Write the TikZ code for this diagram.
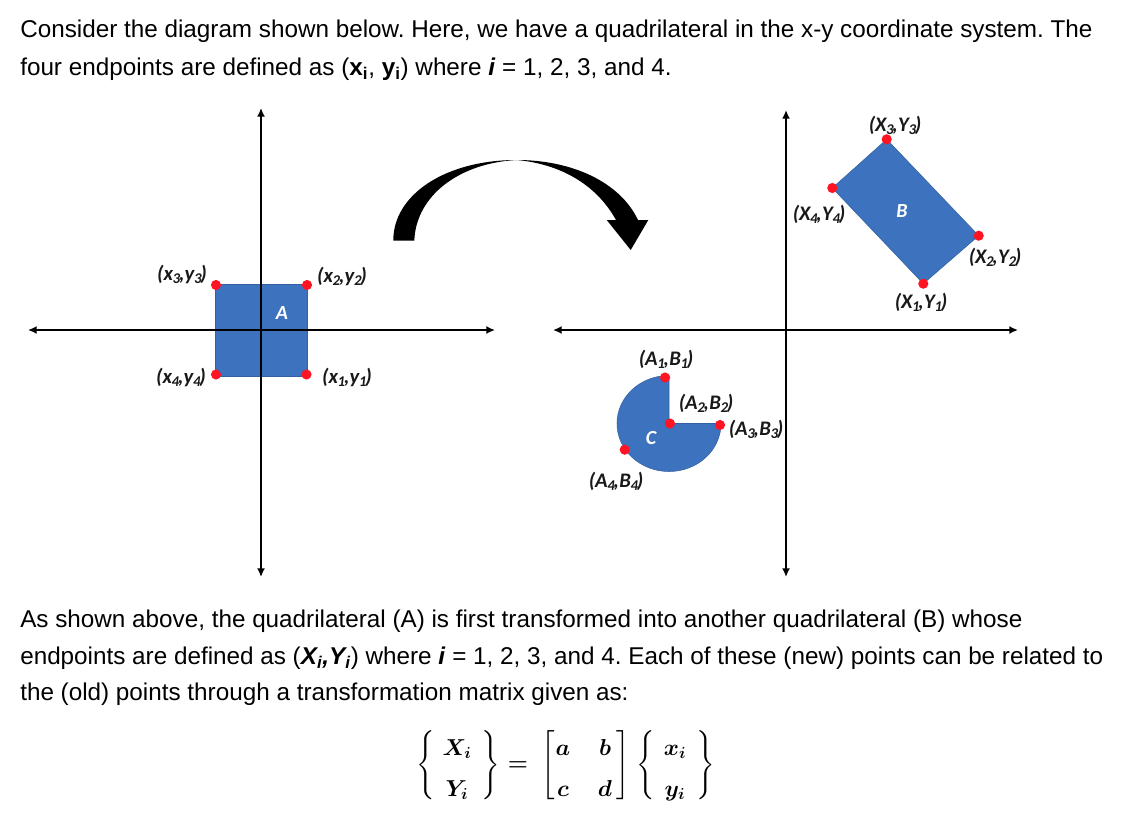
\documentclass[tikz,border=0pt]{standalone}
\usepackage{amsmath}
\usepackage{fontspec}
\setmainfont{Liberation Sans}
\newfontfamily\labfont{Carlito}[BoldFont=Carlito Bold,BoldItalicFont=Carlito Bold Italic,ItalicFont=Carlito Italic]
\usetikzlibrary{arrows.meta}
\definecolor{shapeblue}{RGB}{60,114,190}
\definecolor{dotred}{RGB}{255,20,35}
\newcommand{\sbs}[1]{\kern-.02em\raisebox{-.3ex}{\scalebox{.72}{#1}}\kern-.06em}
\newcommand{\coordlab}[4]{(#1\sbs{#2},\kern.02em#3\sbs{#4})}
\newcommand{\tall}{\vrule width 0pt height 23pt depth 23pt}
\frenchspacing
\tikzset{
  x=0.75pt,y=-0.75pt,
  para/.style={anchor=base west,inner sep=0pt,font=\fontsize{18.2}{22}\selectfont},
  axis/.style={line width=2.1pt,{Latex[length=6.5pt,width=6pt]}-{Latex[length=6.5pt,width=6pt]}},
  region/.style={fill=shapeblue,draw=shapeblue!85!black,line width=.4pt},
  dot/.style={circle,fill=dotred,inner sep=0pt,minimum size=7.6pt},
  lab/.style={inner sep=0pt,font=\labfont\bfseries\itshape\fontsize{15.5}{18}\selectfont,text=black!90},
  shapename/.style={inner sep=0pt,text=white,font=\labfont\bfseries\itshape\fontsize{15}{18}\selectfont},
  cell/.style={anchor=base,inner sep=0pt,font=\fontsize{18.5}{22}\selectfont\boldmath},
  delim/.style={inner sep=0pt,font=\fontsize{17}{20}\selectfont\boldmath}
}
\begin{document}
\begin{tikzpicture}
\useasboundingbox (0,0) rectangle (1138,824);
\fill[white] (0,0) rectangle (1138,824);
% text above
\node[para] (t1) at (20,38) {Consider the diagram shown below. Here, we have a quadrilateral in the x-y coordinate system. The};
\node[para] (t2) at (20,75) {four endpoints are defined as (\textbf{x\textsubscript{i}}, \textbf{y\textsubscript{i}}) where \textbf{\textit{i}} = 1, 2, 3, and 4.};
% shapes
\draw[region] (215,284) rectangle (307,376);
\draw[region] (886.7,139.3) -- (978.7,235.7) -- (923.3,283.7) -- (832.3,188) -- cycle;
\draw[region] (669,423.5) -- (669,375.5) arc[start angle=270,end angle=0,x radius=52,y radius=48] -- cycle;
% axes
\coordinate (la) at (261,108); \coordinate (lb) at (261,577);
\coordinate (lc) at (28,330); \coordinate (ld) at (495,330);
\coordinate (ra) at (786,110); \coordinate (rb) at (786,577);
\coordinate (rc) at (553,330); \coordinate (rd) at (1018,330);
\draw[axis] (la) -- (lb);
\draw[axis] (lc) -- (ld);
\draw[axis] (ra) -- (rb);
\draw[axis] (rc) -- (rd);
% curved arrow
\fill[black] (393.3,240.7) .. controls (393,195) and (445,160) .. (516.7,160)
  .. controls (572,160) and (620,182) .. (638,220) -- (648.3,220) -- (630.7,250) -- (606.7,220) -- (616,220)
  .. controls (596,184) and (560,164) .. (516.7,160)
  .. controls (460,163) and (416,195) .. (414.3,240.7) -- cycle;
% dots
\node[dot] (p3) at (216,285) {};
\node[dot] (p2) at (307,285) {};
\node[dot] (p4) at (216,374.5) {};
\node[dot] (p1) at (306.5,374.5) {};
\node[dot] (q3) at (886.7,139.3) {};
\node[dot] (q4) at (832.3,188) {};
\node[dot] (q2) at (978.7,235.7) {};
\node[dot] (q1) at (923.3,283.7) {};
\node[dot] (r1) at (665,377.5) {};
\node[dot] (r2) at (670,423.5) {};
\node[dot] (r3) at (720,425) {};
\node[dot] (r4) at (624.7,449.7) {};
% labels
\node[lab] (lx3) at (182,274) {\coordlab{x}{3}{y}{3}};
\node[lab] (lx2) at (342,276) {\coordlab{x}{2}{y}{2}};
\node[lab] (lx4) at (181,377) {\coordlab{x}{4}{y}{4}};
\node[lab] (lx1) at (347,377) {\coordlab{x}{1}{y}{1}};
\node[shapename] (na) at (282,313) {A};
\node[lab] (la1) at (666,359) {\coordlab{A}{1}{B}{1}};
\node[lab] (la2) at (706,403) {\coordlab{A}{2}{B}{2}};
\node[lab] (la3) at (756,429) {\coordlab{A}{3}{B}{3}};
\node[lab] (la4) at (616,481) {\coordlab{A}{4}{B}{4}};
\node[shapename] (nc) at (651,438) {C};
\node[lab] (lX3) at (895,125) {\coordlab{X}{3}{Y}{3}};
\node[lab] (lX4) at (819,214) {\coordlab{X}{4}{Y}{4}};
\node[lab] (lX2) at (995,257) {\coordlab{X}{2}{Y}{2}};
\node[lab] (lX1) at (921,302) {\coordlab{X}{1}{Y}{1}};
\node[shapename] (nb) at (902,211) {B};
% text below
\node[para] (t3) at (20,627) {As shown above, the quadrilateral (A) is first transformed into another quadrilateral (B) whose};
\node[para] (t4) at (20,664) {endpoints are defined as (\textbf{\textit{X\textsubscript{i},Y\textsubscript{i}}}) where \textbf{\textit{i}} = 1, 2, 3, and 4. Each of these (new) points can be related to};
\node[para] (t5) at (20,700) {the (old) points through a transformation matrix given as:};
% equation
\node[delim] (d1) at (427,765.7) {$\left\{\tall\right.$};
\node[cell] (cX) at (457,755) {$X_i$};
\node[cell] (cY) at (457,796) {$Y_i$};
\node[delim] (d2) at (490,765.7) {$\left.\tall\right\}$};
\node[cell,anchor=center] (eqs) at (518,765.7) {$=$};
\node[delim] (d3) at (549,765.7) {$\left[\tall\right.$};
\node[cell] (ca) at (563,755) {$a$};
\node[cell] (cb) at (605,755) {$b$};
\node[cell] (cc) at (563,796) {$c$};
\node[cell] (cd) at (605,796) {$d$};
\node[delim] (d4) at (622,765.7) {$\left.\tall\right]$};
\node[delim] (d5) at (647,765.7) {$\left\{\tall\right.$};
\node[cell] (cx) at (675,755) {$x_i$};
\node[cell] (cy) at (675,796) {$y_i$};
\node[delim] (d6) at (705,765.7) {$\left.\tall\right\}$};
\end{tikzpicture}
\end{document}
